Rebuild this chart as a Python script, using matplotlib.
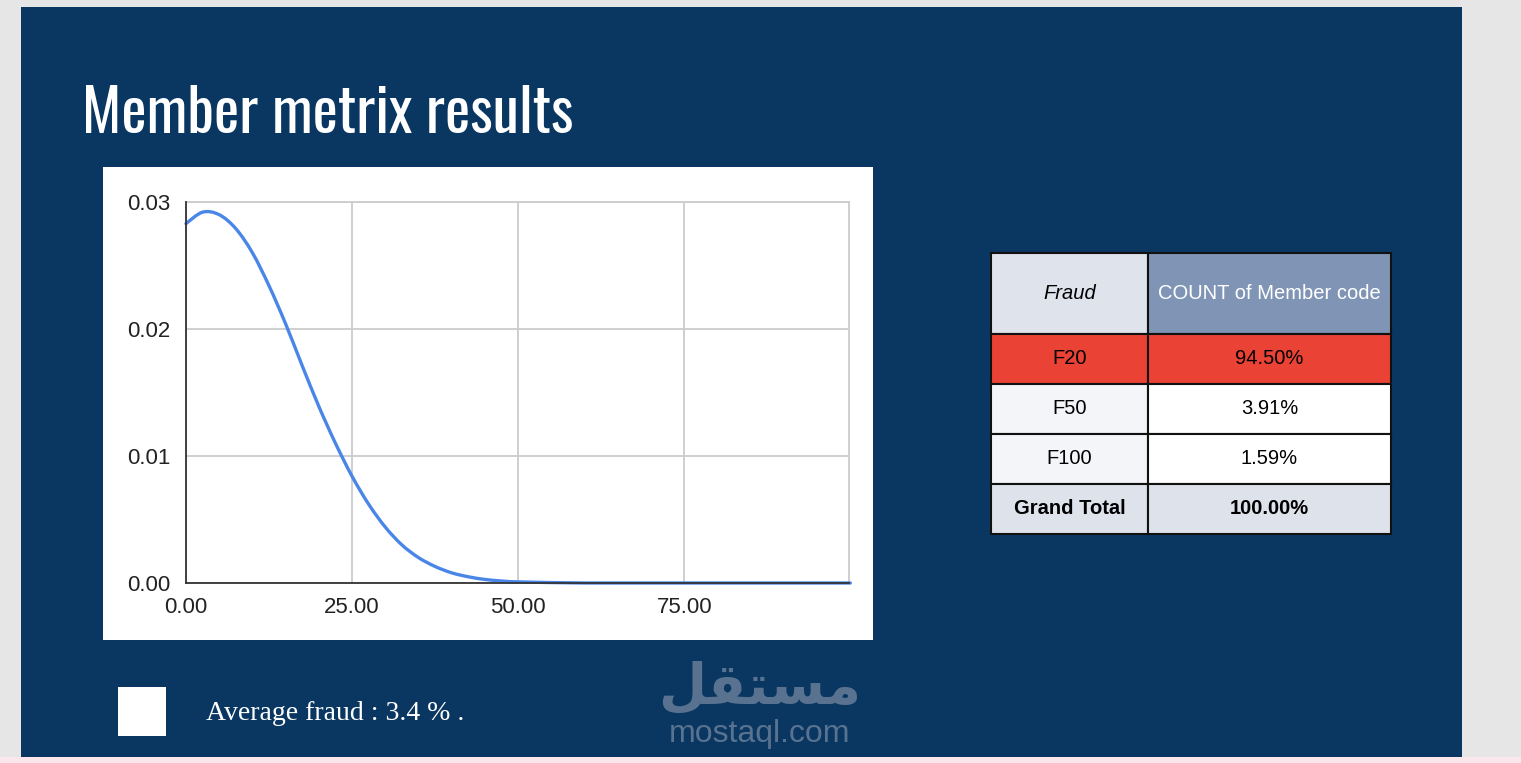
import matplotlib
matplotlib.use("Agg")
import matplotlib.pyplot as plt
from matplotlib.patches import Rectangle, PathPatch
from matplotlib.path import Path
from matplotlib import font_manager as fm

# ---- data ----
fraud_x = [0, 2.5, 5, 7.5, 10, 12.5, 15, 17.5, 20, 22.5, 25, 27.5, 30, 32.5,
           35, 37.5, 40, 42.5, 45, 47.5, 50, 60, 70, 80, 90, 100]
density = [0.0283, 0.0292, 0.0290, 0.0279, 0.0260, 0.0234, 0.0204, 0.0171,
           0.0139, 0.0110, 0.0084, 0.0062, 0.0044, 0.0030, 0.0020, 0.0013,
           0.0008, 0.00049, 0.00028, 0.00016, 0.00009, 0.0, 0.0, 0.0, 0.0, 0.0]
x_ticks = [0, 25, 50, 75]
x_tick_labels = ["0.00", "25.00", "50.00", "75.00"]
y_ticks = [0.0, 0.01, 0.02, 0.03]
y_tick_labels = ["0.00", "0.01", "0.02", "0.03"]

table_header = ["Fraud", "COUNT of Member code"]
fraud_levels = ["F20", "F50", "F100", "Grand Total"]
member_share = ["94.50%", "3.91%", "1.59%", "100.00%"]

title = "Member metrix results"
note = "Average fraud : 3.4 % ."

W, H = 1521, 763
fig = plt.figure(figsize=(W / 100, H / 100), dpi=100)
fig.patch.set_facecolor("#e6e6e6")

def fx(px):
    return px / W

def fy(py):
    return 1 - py / H

installed = {f.name for f in fm.fontManager.ttflist}
title_family = "DejaVu Sans"
for cand in ["Oswald", "Liberation Sans Narrow", "Roboto Condensed"]:
    if cand in installed:
        title_family = cand
        break

# slide background
fig.patches.append(Rectangle((fx(21), fy(757)), fx(1462) - fx(21), fy(7) - fy(757),
                             transform=fig.transFigure, facecolor="#093762",
                             edgecolor="none", zorder=0))
fig.patches.append(Rectangle((0, 0), 1, fy(757), transform=fig.transFigure,
                             facecolor="#fbe6ec", edgecolor="none", zorder=0))
fig.patches.append(Rectangle((fx(103), fy(640)), fx(873) - fx(103), fy(167) - fy(640),
                             transform=fig.transFigure, facecolor="white",
                             edgecolor="none", zorder=0.5))
fig.patches.append(Rectangle((fx(118), fy(736)), fx(166) - fx(118), fy(687) - fy(736),
                             transform=fig.transFigure, facecolor="white",
                             edgecolor="none", zorder=0.5))

# title, fitted to the reference width
tt = fig.text(fx(82), fy(133), title, color="white", fontsize=48,
              family=title_family, ha="left", va="baseline")
fig.canvas.draw()
bb = tt.get_window_extent()
tt.set_fontsize(min(48 * (575 - 84) / bb.width, 56))

# note
fig.text(fx(206), fy(720), note, color="white", fontsize=20,
         family=["Liberation Serif", "DejaVu Serif"], ha="left", va="baseline")

# watermark
fig.text(fx(760), fy(704), "\uFEDE\uFED8\uFE98\uFEB4\uFEE3", color="#58728f",
         fontsize=40, fontweight="bold", family=["DejaVu Sans"], ha="center",
         va="baseline")
fig.text(fx(760), fy(742), "mostaql.com", color="#58728f", fontsize=23,
         family=["Liberation Sans", "DejaVu Sans"], ha="center", va="baseline")

# ---- chart ----
ax = fig.add_axes([fx(186), fy(583), fx(849) - fx(186), fy(202) - fy(583)])
ax.set_zorder(2)
ax.set_facecolor("white")
ax.set_xlim(0, 99.8)
ax.set_ylim(0, 0.03)

# smooth curve through the read points (Catmull-Rom as cubic Bezier segments)
verts = [(fraud_x[0], density[0])]
codes = [Path.MOVETO]
n = len(fraud_x)
for i in range(n - 1):
    p0 = (fraud_x[max(i - 1, 0)], density[max(i - 1, 0)])
    p1 = (fraud_x[i], density[i])
    p2 = (fraud_x[i + 1], density[i + 1])
    p3 = (fraud_x[min(i + 2, n - 1)], density[min(i + 2, n - 1)])
    c1 = (p1[0] + (p2[0] - p0[0]) / 6, max(p1[1] + (p2[1] - p0[1]) / 6, 0.0))
    c2 = (p2[0] - (p3[0] - p1[0]) / 6, max(p2[1] - (p3[1] - p1[1]) / 6, 0.0))
    verts += [c1, c2, p2]
    codes += [Path.CURVE4, Path.CURVE4, Path.CURVE4]
curve = PathPatch(Path(verts, codes), facecolor="none", edgecolor="#4a86e8",
                  lw=2.4, capstyle="round", joinstyle="round", zorder=3,
                  clip_on=False)
ax.add_patch(curve)

ax.set_xticks(x_ticks)
ax.set_xticklabels(x_tick_labels)
ax.set_yticks(y_ticks)
ax.set_yticklabels(y_tick_labels)
ax.grid(True, color="#cccccc", lw=1.3)
ax.set_axisbelow(True)
for s in ["top", "right"]:
    ax.spines[s].set_color("#cccccc")
    ax.spines[s].set_linewidth(1.3)
for s in ["left", "bottom"]:
    ax.spines[s].set_color("#333333")
    ax.spines[s].set_linewidth(1.3)
    ax.spines[s].set_zorder(4)
ax.tick_params(length=0, labelsize=16, labelcolor="#222222")
ax.tick_params(axis="y", pad=11)
ax.tick_params(axis="x", pad=10)
for lab in ax.get_xticklabels() + ax.get_yticklabels():
    lab.set_family(["Liberation Sans", "DejaVu Sans"])

# ---- table ----
tax = fig.add_axes([fx(991), fy(534), fx(1391) - fx(991), fy(253) - fy(534)])
tax.set_zorder(2)
tax.axis("off")
cell_text = [table_header] + [[a, b] for a, b in zip(fraud_levels, member_share)]
tbl = tax.table(cellText=cell_text, bbox=[0, 0, 1, 1], cellLoc="center")
tbl.auto_set_font_size(False)
col_w = [157 / 400, 243 / 400]
row_h = [81 / 281] + [50 / 281] * 4
fills = [["#dfe3ec", "#8095b5"],
         ["#ea4335", "#ea4335"],
         ["#f3f5f8", "#ffffff"],
         ["#f3f5f8", "#ffffff"],
         ["#dde2eb", "#dde2eb"]]
for (r, c), cell in tbl.get_celld().items():
    cell.set_width(col_w[c])
    cell.set_height(row_h[r])
    cell.set_facecolor(fills[r][c])
    cell.set_edgecolor("#111111")
    cell.set_linewidth(1.5)
    t = cell.get_text()
    t.set_fontsize(14.5)
    t.set_family(["Liberation Sans", "DejaVu Sans"])
    t.set_color("black")
    if r == 0 and c == 0:
        t.set_style("italic")
    if r == 0 and c == 1:
        t.set_color("white")
    if r == 4:
        t.set_fontweight("bold")

fig.savefig("out.png", dpi=100, facecolor=fig.get_facecolor())
